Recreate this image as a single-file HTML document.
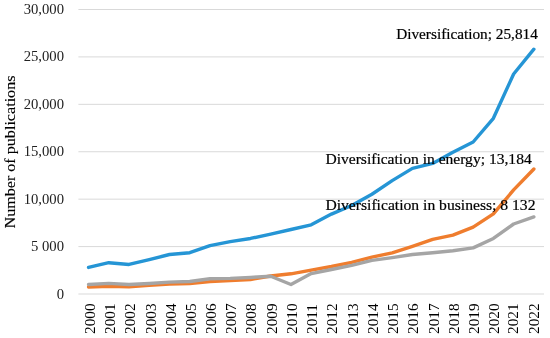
<!DOCTYPE html>
<html><head><meta charset="utf-8"><style>
html,body{margin:0;padding:0;background:#fff;}
svg{display:block;filter:blur(0.3px);}
.pal{font-family:"Liberation Serif",serif;font-size:14.67px;fill:#000;stroke:#000;stroke-width:0.2px;}
.tick{font-family:"Liberation Serif",serif;font-size:14.67px;fill:#222;}
.ttl{font-family:"Liberation Serif",serif;font-size:14.67px;fill:#000;stroke:#000;stroke-width:0.1px;}
.tnr{font-family:"Liberation Serif",serif;font-size:15.2px;fill:#000;}
</style></head><body>
<svg width="550" height="338" viewBox="0 0 550 338">
<rect width="550" height="338" fill="#fff"/>
<line x1="78.4" y1="294.00" x2="544.0" y2="294.00" stroke="#d9d9d9" stroke-width="1"/>
<line x1="78.4" y1="246.58" x2="544.0" y2="246.58" stroke="#d9d9d9" stroke-width="1"/>
<line x1="78.4" y1="199.17" x2="544.0" y2="199.17" stroke="#d9d9d9" stroke-width="1"/>
<line x1="78.4" y1="151.75" x2="544.0" y2="151.75" stroke="#d9d9d9" stroke-width="1"/>
<line x1="78.4" y1="104.33" x2="544.0" y2="104.33" stroke="#d9d9d9" stroke-width="1"/>
<line x1="78.4" y1="56.92" x2="544.0" y2="56.92" stroke="#d9d9d9" stroke-width="1"/>
<line x1="78.4" y1="9.50" x2="544.0" y2="9.50" stroke="#d9d9d9" stroke-width="1"/>

<polyline points="88.52,267.45 108.77,262.70 129.01,264.46 149.25,259.58 169.50,254.50 189.74,252.70 209.98,245.70 230.23,241.60 250.47,238.46 270.71,234.10 290.96,229.50 311.20,224.80 331.44,214.10 351.69,205.52 371.93,194.25 392.17,180.60 412.42,168.39 432.66,163.41 452.90,152.30 473.15,142.00 493.39,118.30 513.63,73.99 533.88,49.20" fill="none" stroke="#2595d5" stroke-width="3.4" stroke-linejoin="round" stroke-linecap="round"/>
<polyline points="88.52,287.00 108.77,286.20 129.01,286.79 149.25,285.40 169.50,284.04 189.74,283.60 209.98,281.67 230.23,280.50 250.47,279.54 270.71,275.98 290.96,273.80 311.20,270.20 331.44,266.50 351.69,262.30 371.93,257.20 392.17,252.82 412.42,246.30 432.66,239.30 452.90,235.20 473.15,227.20 493.39,213.87 513.63,189.90 533.88,168.97" fill="none" stroke="#ef7d2e" stroke-width="3.4" stroke-linejoin="round" stroke-linecap="round"/>
<polyline points="88.52,284.50 108.77,283.40 129.01,284.47 149.25,283.50 169.50,282.10 189.74,281.45 209.98,278.75 230.23,278.40 250.47,277.45 270.71,276.27 290.96,284.52 311.20,273.61 331.44,269.53 351.69,265.45 371.93,260.44 392.17,257.60 412.42,254.55 432.66,252.70 452.90,250.71 473.15,247.90 493.39,238.45 513.63,224.00 533.88,216.88" fill="none" stroke="#a5a5a5" stroke-width="3.4" stroke-linejoin="round" stroke-linecap="round"/>
<text transform="translate(64,298.80) scale(1,1.04)" text-anchor="end" class="tick">0</text>
<text transform="translate(64,250.93) scale(1,1.04)" text-anchor="end" class="tick">5 000</text>
<text transform="translate(64,203.52) scale(1,1.04)" text-anchor="end" class="tick">10,000</text>
<text transform="translate(64,156.10) scale(1,1.04)" text-anchor="end" class="tick">15,000</text>
<text transform="translate(64,108.68) scale(1,1.04)" text-anchor="end" class="tick">20,000</text>
<text transform="translate(64,61.27) scale(1,1.04)" text-anchor="end" class="tick">25,000</text>
<text transform="translate(64,13.60) scale(1,1.04)" text-anchor="end" class="tick">30,000</text>

<text transform="translate(94.52,333.9) rotate(-90)" class="tnr">2000</text>
<text transform="translate(114.77,333.9) rotate(-90)" class="tnr">2001</text>
<text transform="translate(135.31,333.9) rotate(-90)" class="tnr">2002</text>
<text transform="translate(155.55,333.9) rotate(-90)" class="tnr">2003</text>
<text transform="translate(175.50,333.9) rotate(-90)" class="tnr">2004</text>
<text transform="translate(195.74,333.9) rotate(-90)" class="tnr">2005</text>
<text transform="translate(215.98,333.9) rotate(-90)" class="tnr">2006</text>
<text transform="translate(236.23,333.9) rotate(-90)" class="tnr">2007</text>
<text transform="translate(256.47,333.9) rotate(-90)" class="tnr">2008</text>
<text transform="translate(276.71,333.9) rotate(-90)" class="tnr">2009</text>
<text transform="translate(296.96,333.9) rotate(-90)" class="tnr">2010</text>
<text transform="translate(316.90,333.9) rotate(-90)" class="tnr">2011</text>
<text transform="translate(337.14,333.9) rotate(-90)" class="tnr">2012</text>
<text transform="translate(357.69,333.9) rotate(-90)" class="tnr">2013</text>
<text transform="translate(377.93,333.9) rotate(-90)" class="tnr">2014</text>
<text transform="translate(398.17,333.9) rotate(-90)" class="tnr">2015</text>
<text transform="translate(418.42,333.9) rotate(-90)" class="tnr">2016</text>
<text transform="translate(438.66,333.9) rotate(-90)" class="tnr">2017</text>
<text transform="translate(458.90,333.9) rotate(-90)" class="tnr">2018</text>
<text transform="translate(478.65,333.9) rotate(-90)" class="tnr">2019</text>
<text transform="translate(498.89,333.9) rotate(-90)" class="tnr">2020</text>
<text transform="translate(518.23,333.9) rotate(-90)" class="tnr">2021</text>
<text transform="translate(538.68,333.9) rotate(-90)" class="tnr">2022</text>

<text transform="translate(15,228.5) rotate(-90) scale(1,1.05)" class="ttl" textLength="153" lengthAdjust="spacingAndGlyphs">Number of publications</text>
<text transform="translate(396.2,38.6) scale(1,1.05)" class="pal" textLength="141.6" lengthAdjust="spacingAndGlyphs">Diversification; 25,814</text>
<text transform="translate(325.4,163.5) scale(1,1.05)" class="pal" textLength="206.3" lengthAdjust="spacingAndGlyphs">Diversification in energy; 13,184</text>
<text transform="translate(325.4,209.9) scale(1,1.05)" class="pal" textLength="210.1" lengthAdjust="spacingAndGlyphs">Diversification in business; 8 132</text>
</svg>
</body></html>
